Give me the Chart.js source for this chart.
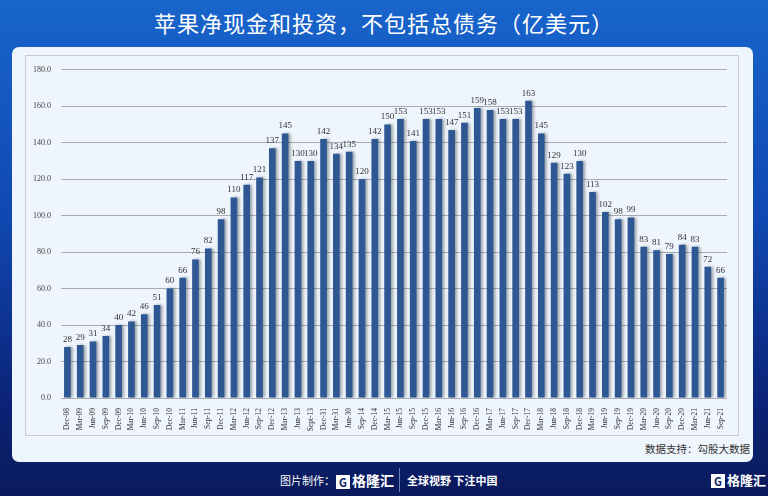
<!DOCTYPE html>
<html>
<head>
<meta charset="utf-8">
<script src="https://cdn.jsdelivr.net/npm/chart.js@4"></script>
<style>
  html, body { margin: 0; padding: 0; }
  body {
    width: 768px; height: 496px; overflow: hidden; position: relative;
    background: linear-gradient(180deg, #1865cc 0%, #1047b0 45%, #0b2479 80%, #0a1a5c 100%);
    font-family: "Noto Sans CJK SC", "Noto Sans", sans-serif;
  }
  #title {
    position: absolute; left: 0; top: 6px; width: 768px; text-align: center;
    color: #fff; font-size: 22px; letter-spacing: 1px;
  }
  #panel {
    position: absolute; left: 12px; top: 47px; width: 741px; height: 415px;
    background: #eef5fc; border-radius: 7px;
  }
  #frame {
    position: absolute; left: 25px; top: 55px; width: 712px; height: 379px;
    border: 1px solid #c6cbd2; box-sizing: content-box;
  }
  #chart-wrap { position: absolute; left: 25px; top: 55px; width: 713px; height: 380px; }
  #source {
    position: absolute; right: 18px; top: 441px; color: #333; font-size: 10.5px;
  }
  .foot { position: absolute; color: #fff; white-space: nowrap; }
  .logo-box {
    display: inline-block; width: 14px; height: 14px; background: #fff; color: #0b1f66;
    font-weight: bold; font-size: 11px; line-height: 14px; text-align: center; vertical-align: middle;
    margin-right: 2px;
  }
</style>
</head>
<body>
<div id="title">苹果净现金和投资，不包括总债务（亿美元）</div>
<div id="panel"></div>
<div id="frame"></div>
<div id="chart-wrap"><canvas id="cashChart" width="713" height="380"></canvas></div>
<div id="source">数据支持：勾股大数据</div>

<div class="foot" style="left:280px; top:472px; font-size:11px;">图片制作：</div>
<div class="foot" style="left:336px; top:470px; font-size:14px; font-weight:bold;"><span class="logo-box">G</span>格隆汇</div>
<div class="foot" style="left:399px; top:468px; width:1px; height:24px; background:#6c7fb8;"></div>
<div class="foot" style="left:407px; top:472px; font-size:11px; font-weight:bold;">全球视野 下注中国</div>
<div class="foot" style="left:711px; top:470px; font-size:13px; font-weight:bold;"><span class="logo-box">G</span>格隆汇</div>

<script>
// quarter labels as printed on the original chart
const quarters = [
  'Dec-08', 'Mar-09', 'Jun-09', 'Sep-09', 'Dec-09', 'Mar-10', 'Jun-10', 'Sep-10',
  'Dec-10', 'Mar-11', 'Jun-11', 'Sep-11', 'Dec-11', 'Mar-12', 'Jun-12', 'Sep-12',
  'Dec-12', 'Mar-13', 'Jun-13', 'Sept-13', 'Dec-31', 'Mar-31', 'Jun-30', 'Sep-14',
  'Dec-14', 'Mar-15', 'Jun-15', 'Sep-15', 'Dec-15', 'Mar-16', 'Jun-16', 'Sep-16',
  'Dec-16', 'Mar-17', 'Jun-17', 'Sep-17', 'Dec-17', 'Mar-18', 'Jun-18', 'Sep-18',
  'Dec-18', 'Mar-19', 'Jun-19', 'Sep-19', 'Dec-19', 'Mar-20', 'Jun-20', 'Sep-20',
  'Dec-20', 'Mar-21', 'Jun-21', 'Sep-21'
];

// net cash & investments, 100M USD
const netCash = [
  28, 29, 31, 34, 40, 42, 46, 51,
  60, 66, 76, 82, 98, 110, 117, 121,
  137, 145, 130, 130, 142, 134, 135, 120,
  142, 150, 153, 141, 153, 153, 147, 151,
  159, 158, 153, 153, 163, 145, 129, 123,
  130, 113, 102, 98, 99, 83, 81, 79,
  84, 83, 72, 66
];

const yTicks = [0, 20, 40, 60, 80, 100, 120, 140, 160, 180];

const serif = '"Liberation Serif", "DejaVu Serif", serif';

// soft shadow behind the bars, like the original
const barShadow = {
  id: 'barShadow',
  beforeDatasetsDraw(chart) {
    const ctx = chart.ctx;
    ctx.save();
    ctx.shadowColor = 'rgba(0,0,0,0.35)';
    ctx.shadowBlur = 3;
    ctx.shadowOffsetX = 2;
    ctx.shadowOffsetY = 0;
  },
  afterDatasetsDraw(chart) {
    chart.ctx.restore();
  }
};

// value labels on top of each bar
const valueLabels = {
  id: 'valueLabels',
  afterDatasetsDraw(chart) {
    const ctx = chart.ctx;
    const meta = chart.getDatasetMeta(0);
    ctx.save();
    ctx.fillStyle = '#333';
    ctx.font = '9px ' + serif;
    ctx.textAlign = 'center';
    ctx.textBaseline = 'bottom';
    meta.data.forEach((bar, i) => {
      ctx.fillText(netCash[i], bar.x, bar.y - 3);
    });
    ctx.restore();
  }
};

new Chart(document.getElementById('cashChart').getContext('2d'), {
  type: 'bar',
  data: {
    labels: quarters,
    datasets: [{
      data: netCash,
      backgroundColor: '#2d5894',
      borderWidth: 0,
      categoryPercentage: 1,
      barPercentage: 0.52
    }]
  },
  options: {
    responsive: false,
    animation: false,
    events: [],
    layout: { padding: { left: 0, right: 11, top: 14, bottom: 0 } },
    plugins: {
      legend: { display: false },
      tooltip: { enabled: false }
    },
    scales: {
      x: {
        grid: { display: false },
        border: { display: false },
        ticks: {
          autoSkip: false,
          minRotation: 90,
          maxRotation: 90,
          padding: 2,
          color: '#333',
          font: { family: serif, size: 7.5 }
        },
        afterFit(axis) { axis.height = 37; }
      },
      y: {
        min: 0,
        max: 180,
        afterBuildTicks(axis) { axis.ticks = yTicks.map(v => ({ value: v })); },
        grid: { color: '#a9adb3', lineWidth: 1, drawTicks: false },
        border: { display: false },
        ticks: {
          padding: 10,
          color: '#444',
          font: { family: serif, size: 8 },
          callback: v => v.toFixed(1)
        },
        afterFit(axis) { axis.width = 36; }
      }
    }
  },
  plugins: [barShadow, valueLabels]
});
</script>
</body>
</html>
